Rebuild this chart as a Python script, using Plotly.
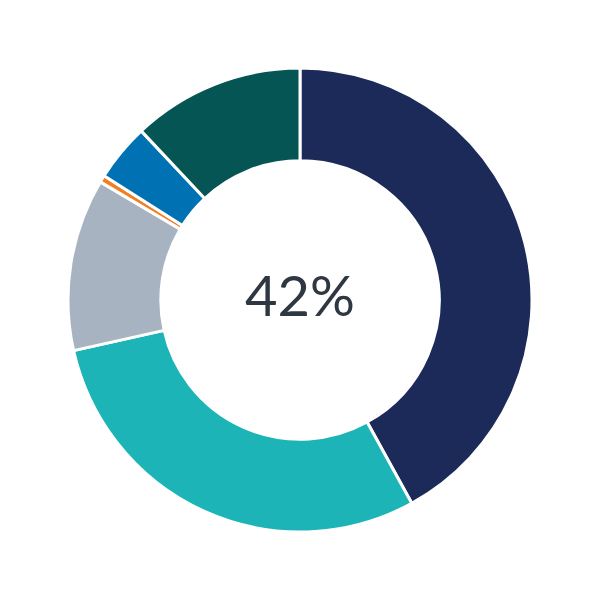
import plotly.graph_objects as go

# 各扇区数值（顺时针，从12点方向开始）
labels = ["A", "B", "C", "D", "E", "F"]
values = [42, 29.5, 12, 0.5, 4, 12]
colors = ["#1b2a59", "#1cb4b6", "#a8b3c1", "#f07f23", "#0072b4", "#045553"]
center_text = "42%"

fig = go.Figure()
fig.add_trace(go.Pie(
    labels=labels,
    values=values,
    hole=0.6,
    sort=False,
    direction="clockwise",
    rotation=0,
    marker=dict(colors=colors, line=dict(color="white", width=3)),
    textinfo="none",
    hoverinfo="label+percent",
    showlegend=False,
))

fig.add_annotation(
    text=center_text, x=0.5, y=0.5, xref="paper", yref="paper",
    showarrow=False, yshift=6,
    font=dict(family="Lato", size=56, color="#2f3742"),
)

# 页面 body 有 8px 边距，所以左上边距减 8
fig.update_layout(
    width=600, height=600,
    margin=dict(l=60, r=76, t=60, b=76),
    paper_bgcolor="white",
    plot_bgcolor="white",
)

fig.write_html("out.html")
